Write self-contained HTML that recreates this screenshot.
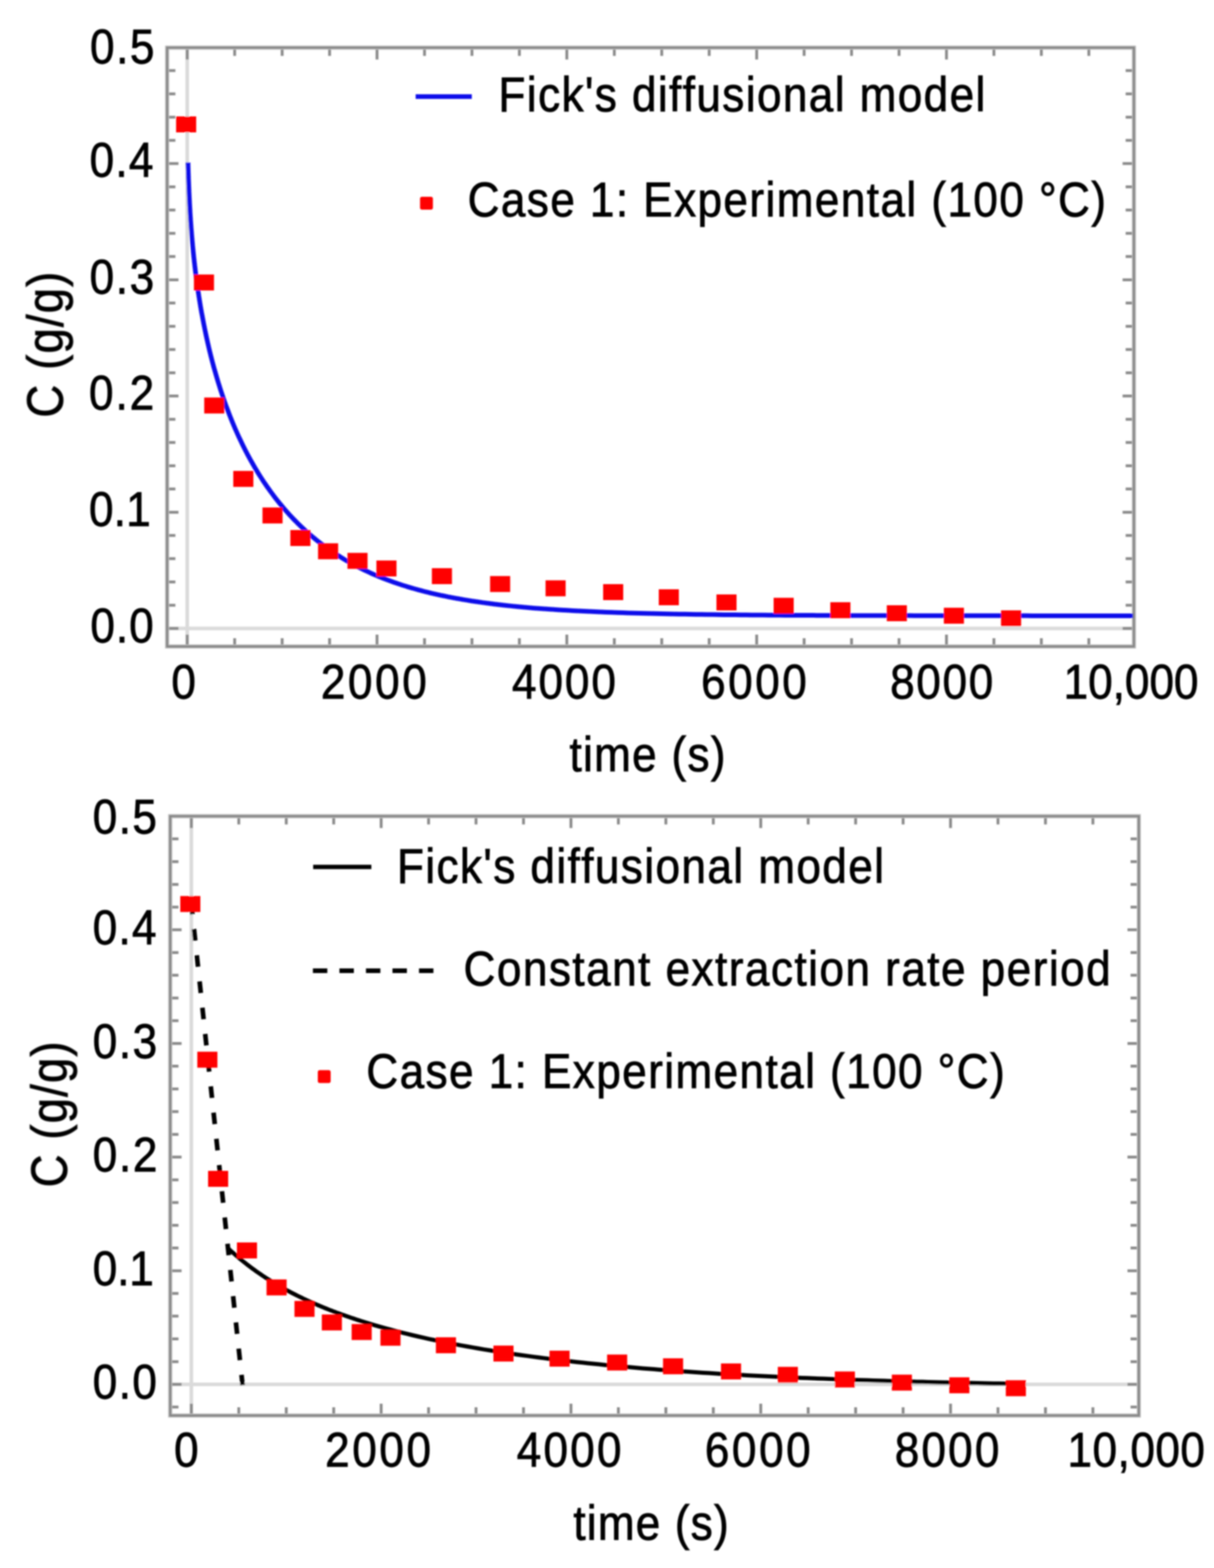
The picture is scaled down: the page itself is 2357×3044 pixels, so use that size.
<!DOCTYPE html><html><head><meta charset="utf-8"><title>Fick diffusion plots</title><style>html,body{margin:0;padding:0;background:#fff;}svg{display:block;}</style></head><body><svg width="2357" height="3044" viewBox="0 0 2357 3044"><defs><filter id="bl" filterUnits="userSpaceOnUse" x="0" y="0" width="2357" height="3044"><feGaussianBlur stdDeviation="1.5"/></filter></defs><rect width="2357" height="3044" fill="#fff"/><g filter="url(#bl)"><line x1="363.5" y1="92.5" x2="363.5" y2="1255" stroke="#dadada" stroke-width="7"/><line x1="324.5" y1="1220" x2="2201.5" y2="1220" stroke="#dadada" stroke-width="7"/><path d="M363.5 1255v-23M363.5 92.5v23M455.6 1255v-16M455.6 92.5v16M547.8 1255v-16M547.8 92.5v16M639.9 1255v-16M639.9 92.5v16M732 1255v-23M732 92.5v23M824.2 1255v-16M824.2 92.5v16M916.3 1255v-16M916.3 92.5v16M1008.4 1255v-16M1008.4 92.5v16M1100.5 1255v-23M1100.5 92.5v23M1192.7 1255v-16M1192.7 92.5v16M1284.8 1255v-16M1284.8 92.5v16M1376.9 1255v-16M1376.9 92.5v16M1469.1 1255v-23M1469.1 92.5v23M1561.2 1255v-16M1561.2 92.5v16M1653.3 1255v-16M1653.3 92.5v16M1745.5 1255v-16M1745.5 92.5v16M1837.6 1255v-23M1837.6 92.5v23M1929.7 1255v-16M1929.7 92.5v16M2021.8 1255v-16M2021.8 92.5v16M2114 1255v-16M2114 92.5v16M324.5 1220h22M2201.5 1220h-22M324.5 1174.9h16M2201.5 1174.9h-16M324.5 1129.8h16M2201.5 1129.8h-16M324.5 1084.6h16M2201.5 1084.6h-16M324.5 1039.5h16M2201.5 1039.5h-16M324.5 994.4h22M2201.5 994.4h-22M324.5 949.3h16M2201.5 949.3h-16M324.5 904.2h16M2201.5 904.2h-16M324.5 859h16M2201.5 859h-16M324.5 813.9h16M2201.5 813.9h-16M324.5 768.8h22M2201.5 768.8h-22M324.5 723.7h16M2201.5 723.7h-16M324.5 678.6h16M2201.5 678.6h-16M324.5 633.4h16M2201.5 633.4h-16M324.5 588.3h16M2201.5 588.3h-16M324.5 543.2h22M2201.5 543.2h-22M324.5 498.1h16M2201.5 498.1h-16M324.5 453h16M2201.5 453h-16M324.5 407.8h16M2201.5 407.8h-16M324.5 362.7h16M2201.5 362.7h-16M324.5 317.6h22M2201.5 317.6h-22M324.5 272.5h16M2201.5 272.5h-16M324.5 227.4h16M2201.5 227.4h-16M324.5 182.2h16M2201.5 182.2h-16M324.5 137.1h16M2201.5 137.1h-16M324.5 92h22M2201.5 92h-22" stroke="#8a8a8a" stroke-width="5.5" fill="none"/><rect x="324.5" y="92.5" width="1877" height="1162.5" fill="none" stroke="#bdbdbd" stroke-width="8"/><rect x="324.5" y="92.5" width="1877" height="1162.5" fill="none" stroke="#858585" stroke-width="4.2"/><path d="M365.0 315.3 L365.5 332.3 L366.0 347.2 L366.5 360.4 L367.0 372.3 L367.5 383.2 L368.0 393.1 L368.5 402.3 L369.0 410.9 L369.5 419.0 L370.0 426.6 L370.5 433.8 L371.0 440.6 L371.5 447.2 L372.0 453.5 L372.5 459.5 L373.0 465.3 L373.5 471.0 L374.0 476.4 L374.5 481.6 L375.0 486.7 L375.5 491.7 L376.0 496.5 L376.5 501.2 L377.0 505.8 L377.5 510.3 L378.0 514.7 L378.5 518.9 L379.0 523.1 L379.5 527.2 L380.0 531.2 L380.5 535.1 L381.5 542.8 L382.5 550.2 L383.5 557.3 L384.5 564.2 L385.5 570.9 L386.5 577.4 L387.5 583.7 L388.5 589.9 L389.5 595.9 L390.5 601.7 L391.5 607.4 L392.6 612.9 L393.6 618.3 L394.6 623.6 L395.6 628.8 L396.6 633.9 L397.6 638.8 L398.6 643.7 L399.6 648.5 L400.6 653.2 L401.6 657.8 L402.6 662.3 L403.6 666.7 L404.6 671.1 L405.6 675.4 L406.6 679.6 L407.6 683.7 L408.6 687.8 L409.6 691.8 L410.6 695.7 L411.6 699.6 L412.6 703.5 L413.6 707.2 L414.6 711.0 L415.6 714.6 L416.7 718.3 L417.7 721.8 L418.7 725.3 L419.7 728.8 L420.7 732.2 L421.7 735.6 L422.7 739.0 L423.7 742.3 L424.7 745.5 L425.7 748.7 L426.7 751.9 L427.7 755.0 L428.7 758.1 L429.7 761.2 L430.7 764.2 L431.7 767.2 L432.7 770.2 L433.7 773.1 L434.7 776.0 L435.7 778.9 L436.7 781.7 L437.7 784.5 L438.7 787.3 L439.7 790.0 L440.8 792.7 L441.8 795.4 L442.8 798.1 L443.8 800.7 L444.8 803.3 L445.8 805.9 L446.8 808.5 L447.8 811.0 L448.8 813.5 L449.8 816.0 L450.8 818.4 L451.8 820.9 L452.8 823.3 L453.8 825.7 L454.8 828.0 L455.8 830.4 L456.8 832.7 L457.8 835.0 L458.8 837.3 L459.8 839.5 L460.8 841.8 L461.8 844.0 L462.8 846.2 L463.8 848.4 L464.9 850.6 L465.9 852.7 L466.9 854.8 L467.9 856.9 L468.9 859.0 L469.9 861.1 L470.9 863.2 L471.9 865.2 L472.9 867.2 L473.9 869.2 L474.9 871.2 L475.9 873.2 L476.9 875.2 L477.9 877.1 L478.9 879.0 L479.9 881.0 L480.9 882.9 L481.9 884.7 L482.9 886.6 L483.9 888.5 L484.9 890.3 L485.9 892.1 L486.9 893.9 L487.9 895.7 L489.0 897.5 L490.0 899.3 L491.0 901.1 L492.0 902.8 L493.0 904.5 L494.0 906.3 L495.0 908.0 L496.0 909.7 L497.0 911.3 L498.0 913.0 L499.0 914.7 L500.0 916.3 L502.0 919.6 L505.3 924.9 L508.7 930.1 L512.0 935.2 L515.4 940.1 L518.7 945.0 L522.1 949.7 L525.4 954.4 L528.8 958.9 L532.1 963.4 L535.4 967.7 L538.8 972.0 L542.1 976.1 L545.5 980.2 L548.8 984.2 L552.2 988.1 L555.5 992.0 L558.9 995.7 L562.2 999.4 L565.5 1003.0 L568.9 1006.6 L572.2 1010.0 L575.6 1013.4 L578.9 1016.8 L582.3 1020.0 L585.6 1023.2 L589.0 1026.4 L592.3 1029.5 L595.6 1032.5 L599.0 1035.5 L602.3 1038.4 L605.7 1041.2 L609.0 1044.0 L612.4 1046.8 L615.7 1049.5 L619.1 1052.1 L622.4 1054.7 L625.7 1057.2 L629.1 1059.7 L632.4 1062.2 L635.8 1064.6 L639.1 1067.0 L642.5 1069.3 L645.8 1071.6 L649.2 1073.8 L652.5 1076.0 L655.8 1078.1 L659.2 1080.2 L662.5 1082.3 L665.9 1084.4 L669.2 1086.3 L672.6 1088.3 L675.9 1090.2 L679.3 1092.1 L682.6 1094.0 L685.9 1095.8 L689.3 1097.6 L692.6 1099.4 L696.0 1101.1 L699.3 1102.8 L702.7 1104.4 L706.0 1106.1 L709.4 1107.7 L712.7 1109.2 L716.1 1110.8 L719.4 1112.3 L722.7 1113.8 L726.1 1115.3 L729.4 1116.7 L732.8 1118.1 L736.1 1119.5 L739.5 1120.9 L742.8 1122.2 L746.2 1123.5 L749.5 1124.8 L752.8 1126.1 L756.2 1127.3 L759.5 1128.5 L762.9 1129.7 L766.2 1130.9 L769.6 1132.1 L772.9 1133.2 L776.3 1134.3 L779.6 1135.4 L782.9 1136.5 L786.3 1137.5 L789.6 1138.6 L793.0 1139.6 L796.3 1140.6 L799.7 1141.6 L803.0 1142.5 L806.4 1143.5 L809.7 1144.4 L813.0 1145.3 L816.4 1146.2 L819.7 1147.1 L823.1 1148.0 L826.4 1148.8 L829.8 1149.6 L833.1 1150.5 L836.5 1151.3 L839.8 1152.1 L843.1 1152.8 L846.5 1153.6 L849.8 1154.3 L853.2 1155.1 L856.5 1155.8 L859.9 1156.5 L863.2 1157.2 L866.6 1157.9 L869.9 1158.6 L873.2 1159.2 L876.6 1159.9 L879.9 1160.5 L883.3 1161.1 L886.6 1161.7 L890.0 1162.3 L893.3 1162.9 L896.7 1163.5 L900.0 1164.1 L905.0 1164.9 L915.9 1166.7 L926.8 1168.3 L937.6 1169.9 L948.5 1171.3 L959.4 1172.7 L970.3 1174.0 L981.1 1175.2 L992.0 1176.4 L1002.9 1177.4 L1013.8 1178.5 L1024.7 1179.4 L1035.5 1180.4 L1046.4 1181.2 L1057.3 1182.0 L1068.2 1182.8 L1079.1 1183.5 L1089.9 1184.2 L1100.8 1184.8 L1111.7 1185.4 L1122.6 1186.0 L1133.4 1186.5 L1144.3 1187.0 L1155.2 1187.5 L1166.1 1188.0 L1177.0 1188.4 L1187.8 1188.8 L1198.7 1189.2 L1209.6 1189.5 L1220.5 1189.9 L1231.3 1190.2 L1242.2 1190.5 L1253.1 1190.8 L1264.0 1191.0 L1274.9 1191.3 L1285.7 1191.5 L1296.6 1191.7 L1307.5 1192.0 L1318.4 1192.2 L1329.2 1192.3 L1340.1 1192.5 L1351.0 1192.7 L1361.9 1192.8 L1372.8 1193.0 L1383.6 1193.1 L1394.5 1193.3 L1405.4 1193.4 L1416.3 1193.5 L1427.2 1193.6 L1438.0 1193.7 L1448.9 1193.8 L1459.8 1193.9 L1470.7 1194.0 L1481.5 1194.1 L1492.4 1194.2 L1503.3 1194.2 L1514.2 1194.3 L1525.1 1194.4 L1535.9 1194.4 L1546.8 1194.5 L1557.7 1194.5 L1568.6 1194.6 L1579.4 1194.6 L1590.3 1194.7 L1601.2 1194.7 L1612.1 1194.8 L1623.0 1194.8 L1633.8 1194.8 L1644.7 1194.9 L1655.6 1194.9 L1666.5 1194.9 L1677.3 1195.0 L1688.2 1195.0 L1699.1 1195.0 L1710.0 1195.0 L1720.9 1195.1 L1731.7 1195.1 L1742.6 1195.1 L1753.5 1195.1 L1764.4 1195.1 L1775.3 1195.2 L1786.1 1195.2 L1797.0 1195.2 L1807.9 1195.2 L1818.8 1195.2 L1829.6 1195.2 L1840.5 1195.2 L1851.4 1195.2 L1862.3 1195.3 L1873.2 1195.3 L1884.0 1195.3 L1894.9 1195.3 L1905.8 1195.3 L1916.7 1195.3 L1927.5 1195.3 L1938.4 1195.3 L1949.3 1195.3 L1960.2 1195.3 L1971.1 1195.3 L1981.9 1195.3 L1992.8 1195.3 L2003.7 1195.4 L2014.6 1195.4 L2025.4 1195.4 L2036.3 1195.4 L2047.2 1195.4 L2058.1 1195.4 L2069.0 1195.4 L2079.8 1195.4 L2090.7 1195.4 L2101.6 1195.4 L2112.5 1195.4 L2123.4 1195.4 L2134.2 1195.4 L2145.1 1195.4 L2156.0 1195.4 L2166.9 1195.4 L2177.7 1195.4 L2188.6 1195.4 L2199.5 1195.4" fill="none" stroke="#1010ea" stroke-width="9" stroke-linejoin="round"/><g fill="#ff0000"><rect x="341.9" y="226" width="39" height="31"/><rect x="376.5" y="532.9" width="39" height="31"/><rect x="396.5" y="771.7" width="39" height="31"/><rect x="452.9" y="914.2" width="39" height="31"/><rect x="509.6" y="985.2" width="39" height="31"/><rect x="563.7" y="1029" width="39" height="31"/><rect x="617.5" y="1054.7" width="39" height="31"/><rect x="674.6" y="1073.3" width="39" height="31"/><rect x="730.8" y="1088.1" width="39" height="31"/><rect x="838.5" y="1103" width="39" height="31"/><rect x="951.5" y="1118.3" width="39" height="31"/><rect x="1059.2" y="1126.6" width="39" height="31"/><rect x="1171" y="1134" width="39" height="31"/><rect x="1279" y="1144" width="39" height="31"/><rect x="1391" y="1154" width="39" height="31"/><rect x="1502" y="1160.5" width="39" height="31"/><rect x="1612.1" y="1169.1" width="39" height="31"/><rect x="1721.7" y="1175" width="39" height="31"/><rect x="1832.5" y="1179.8" width="39" height="31"/><rect x="1943.5" y="1184.9" width="39" height="31"/></g><line x1="807" y1="187.6" x2="916" y2="187.6" stroke="#1010ea" stroke-width="9"/><rect x="815.5" y="382" width="25" height="25" rx="4" fill="#ff0000"/><line x1="371.5" y1="1584.5" x2="371.5" y2="2748" stroke="#dadada" stroke-width="7"/><line x1="330.5" y1="2687.5" x2="2211" y2="2687.5" stroke="#dadada" stroke-width="7"/><path d="M371.5 2748v-23M371.5 1584.5v23M463.6 2748v-16M463.6 1584.5v16M555.8 2748v-16M555.8 1584.5v16M647.9 2748v-16M647.9 1584.5v16M740 2748v-23M740 1584.5v23M832.1 2748v-16M832.1 1584.5v16M924.2 2748v-16M924.2 1584.5v16M1016.4 2748v-16M1016.4 1584.5v16M1108.5 2748v-23M1108.5 1584.5v23M1200.6 2748v-16M1200.6 1584.5v16M1292.8 2748v-16M1292.8 1584.5v16M1384.9 2748v-16M1384.9 1584.5v16M1477 2748v-23M1477 1584.5v23M1569.1 2748v-16M1569.1 1584.5v16M1661.2 2748v-16M1661.2 1584.5v16M1753.4 2748v-16M1753.4 1584.5v16M1845.5 2748v-23M1845.5 1584.5v23M1937.6 2748v-16M1937.6 1584.5v16M2029.8 2748v-16M2029.8 1584.5v16M2121.9 2748v-16M2121.9 1584.5v16M330.5 2731.6h16M2211 2731.6h-16M330.5 2687.5h22M2211 2687.5h-22M330.5 2643.4h16M2211 2643.4h-16M330.5 2599.3h16M2211 2599.3h-16M330.5 2555.1h16M2211 2555.1h-16M330.5 2511h16M2211 2511h-16M330.5 2466.9h22M2211 2466.9h-22M330.5 2422.8h16M2211 2422.8h-16M330.5 2378.7h16M2211 2378.7h-16M330.5 2334.5h16M2211 2334.5h-16M330.5 2290.4h16M2211 2290.4h-16M330.5 2246.3h22M2211 2246.3h-22M330.5 2202.2h16M2211 2202.2h-16M330.5 2158.1h16M2211 2158.1h-16M330.5 2113.9h16M2211 2113.9h-16M330.5 2069.8h16M2211 2069.8h-16M330.5 2025.7h22M2211 2025.7h-22M330.5 1981.6h16M2211 1981.6h-16M330.5 1937.5h16M2211 1937.5h-16M330.5 1893.3h16M2211 1893.3h-16M330.5 1849.2h16M2211 1849.2h-16M330.5 1805.1h22M2211 1805.1h-22M330.5 1761h16M2211 1761h-16M330.5 1716.9h16M2211 1716.9h-16M330.5 1672.7h16M2211 1672.7h-16M330.5 1628.6h16M2211 1628.6h-16M330.5 1584.5h22M2211 1584.5h-22" stroke="#8a8a8a" stroke-width="5.5" fill="none"/><rect x="330.5" y="1584.5" width="1880.5" height="1163.5" fill="none" stroke="#bdbdbd" stroke-width="8"/><rect x="330.5" y="1584.5" width="1880.5" height="1163.5" fill="none" stroke="#858585" stroke-width="4.2"/><line x1="371.5" y1="1755" x2="471" y2="2689" stroke="#000" stroke-width="9" stroke-dasharray="22.5 28.7" stroke-dashoffset="2.4"/><path d="M441.0 2421.7 L444.3 2424.7 L447.6 2427.8 L450.8 2430.7 L454.1 2433.6 L457.4 2436.5 L460.7 2439.3 L463.9 2442.1 L467.2 2444.8 L470.5 2447.5 L473.8 2450.1 L477.1 2452.7 L480.3 2455.3 L483.6 2457.8 L486.9 2460.2 L490.2 2462.7 L493.5 2465.1 L496.7 2467.4 L500.0 2469.7 L503.3 2472.0 L506.6 2474.2 L509.8 2476.5 L513.1 2478.6 L516.4 2480.8 L519.7 2482.9 L523.0 2484.9 L526.2 2487.0 L529.5 2489.0 L532.8 2491.0 L536.1 2493.0 L539.4 2494.9 L542.6 2496.8 L545.9 2498.7 L549.2 2500.5 L552.5 2502.3 L555.7 2504.1 L559.0 2505.9 L562.3 2507.6 L565.6 2509.4 L568.9 2511.1 L572.1 2512.7 L575.4 2514.4 L578.7 2516.0 L582.0 2517.6 L585.3 2519.2 L588.5 2520.8 L591.8 2522.3 L595.1 2523.9 L598.4 2525.4 L601.6 2526.9 L604.9 2528.3 L608.2 2529.8 L611.5 2531.2 L614.8 2532.6 L618.0 2534.0 L621.3 2535.4 L624.6 2536.8 L627.9 2538.1 L631.2 2539.5 L634.4 2540.8 L637.7 2542.1 L641.0 2543.4 L644.3 2544.6 L647.5 2545.9 L650.8 2547.1 L654.1 2548.4 L657.4 2549.6 L660.7 2550.8 L663.9 2552.0 L667.2 2553.1 L670.5 2554.3 L673.8 2555.4 L677.1 2556.6 L680.3 2557.7 L683.6 2558.8 L686.9 2559.9 L690.2 2561.0 L693.4 2562.1 L696.7 2563.1 L700.0 2564.2 L705.0 2565.8 L715.6 2569.1 L726.3 2572.3 L736.9 2575.4 L747.6 2578.3 L758.2 2581.2 L768.9 2584.0 L779.5 2586.8 L790.2 2589.4 L800.8 2592.0 L811.5 2594.5 L822.1 2596.9 L832.8 2599.3 L843.4 2601.5 L854.1 2603.8 L864.7 2605.9 L875.4 2608.0 L886.0 2610.1 L896.6 2612.1 L907.3 2614.0 L917.9 2615.9 L928.6 2617.8 L939.2 2619.6 L949.9 2621.3 L960.5 2623.0 L971.2 2624.7 L981.8 2626.3 L992.5 2627.9 L1003.1 2629.5 L1013.8 2631.0 L1024.4 2632.4 L1035.1 2633.9 L1045.7 2635.3 L1056.4 2636.6 L1067.0 2638.0 L1077.6 2639.3 L1088.3 2640.5 L1098.9 2641.8 L1109.6 2643.0 L1120.2 2644.2 L1130.9 2645.3 L1141.5 2646.5 L1152.2 2647.6 L1162.8 2648.6 L1173.5 2649.7 L1184.1 2650.7 L1194.8 2651.7 L1205.4 2652.7 L1216.1 2653.6 L1226.7 2654.6 L1237.4 2655.5 L1248.0 2656.4 L1258.6 2657.2 L1269.3 2658.1 L1279.9 2658.9 L1290.6 2659.7 L1301.2 2660.5 L1311.9 2661.3 L1322.5 2662.1 L1333.2 2662.8 L1343.8 2663.5 L1354.5 2664.2 L1365.1 2664.9 L1375.8 2665.6 L1386.4 2666.2 L1397.1 2666.9 L1407.7 2667.5 L1418.4 2668.1 L1429.0 2668.7 L1439.6 2669.3 L1450.3 2669.9 L1460.9 2670.4 L1471.6 2671.0 L1482.2 2671.5 L1492.9 2672.0 L1503.5 2672.5 L1514.2 2673.0 L1524.8 2673.5 L1535.5 2674.0 L1546.1 2674.5 L1556.8 2674.9 L1567.4 2675.3 L1578.1 2675.8 L1588.7 2676.2 L1599.4 2676.6 L1610.0 2677.0 L1620.6 2677.4 L1631.3 2677.8 L1641.9 2678.2 L1652.6 2678.5 L1663.2 2678.9 L1673.9 2679.3 L1684.5 2679.6 L1695.2 2679.9 L1705.8 2680.3 L1716.5 2680.6 L1727.1 2680.9 L1737.8 2681.2 L1748.4 2681.5 L1759.1 2681.8 L1769.7 2682.1 L1780.4 2682.4 L1791.0 2682.6 L1801.6 2682.9 L1812.3 2683.2 L1822.9 2683.4 L1833.6 2683.7 L1844.2 2683.9 L1854.9 2684.1 L1865.5 2684.4 L1876.2 2684.6 L1886.8 2684.8 L1897.5 2685.0 L1908.1 2685.2 L1918.8 2685.4 L1929.4 2685.7 L1940.1 2685.8 L1950.7 2686.0 L1961.4 2686.2 L1972.0 2686.4" fill="none" stroke="#000" stroke-width="8" stroke-linejoin="round"/><g fill="#ff0000"><rect x="350" y="1739.5" width="39" height="31"/><rect x="383.1" y="2041.7" width="39" height="31"/><rect x="404" y="2273" width="39" height="31"/><rect x="460" y="2412" width="39" height="31"/><rect x="517.5" y="2483.8" width="39" height="31"/><rect x="571.7" y="2525.5" width="39" height="31"/><rect x="624.8" y="2551.8" width="39" height="31"/><rect x="682.7" y="2570.4" width="39" height="31"/><rect x="738.6" y="2581.5" width="39" height="31"/><rect x="846.3" y="2596.1" width="39" height="31"/><rect x="958" y="2612.2" width="39" height="31"/><rect x="1066.9" y="2622.1" width="39" height="31"/><rect x="1178.7" y="2629.6" width="39" height="31"/><rect x="1287.3" y="2636.9" width="39" height="31"/><rect x="1399.8" y="2646.9" width="39" height="31"/><rect x="1510.1" y="2653.5" width="39" height="31"/><rect x="1620.8" y="2662.5" width="39" height="31"/><rect x="1731.5" y="2668.6" width="39" height="31"/><rect x="1843.1" y="2673.8" width="39" height="31"/><rect x="1952.8" y="2679.5" width="39" height="31"/></g><line x1="608" y1="1683" x2="721" y2="1683" stroke="#000" stroke-width="8.5"/><path d="M607.5 1884.6h28M659 1884.6h28M710.5 1884.6h28M762 1884.6h28M813.5 1884.6h28" stroke="#000" stroke-width="9"/><rect x="617" y="2077.5" width="25" height="25" rx="4" fill="#ff0000"/><g font-family="'Liberation Sans', Arial, sans-serif" fill="#000" stroke="#000" stroke-width="1.5"><text transform="scale(0.9 1)" x="194.3 250.5 280.2" y="123.3" font-size="95">0.5</text><text transform="scale(0.9 1)" x="193.4 249 278.2" y="343.1" font-size="95">0.4</text><text transform="scale(0.9 1)" x="193.4 249.8 279.6" y="569.8" font-size="95">0.3</text><text transform="scale(0.9 1)" x="192 249.1 279.8" y="795.4" font-size="95">0.2</text><text transform="scale(0.9 1)" x="192 245.4 272.3" y="1021.4" font-size="95">0.1</text><text transform="scale(0.9 1)" x="195.1 250.1 278.6" y="1247.3" font-size="95">0.0</text><text transform="scale(0.9 1)" x="369.6" y="1356" font-size="95">0</text><text transform="scale(0.9 1)" x="692.1 750.7 809.3 867.9" y="1356" font-size="95">2000</text><text transform="scale(0.9 1)" x="1104.5 1161.6 1218.7 1275.8" y="1356" font-size="95">4000</text><text transform="scale(0.9 1)" x="1512.4 1570.8 1629.2 1687.6" y="1356" font-size="95">6000</text><text transform="scale(0.9 1)" x="1920.2 1976.7 2033.3 2089.8" y="1356" font-size="95">8000</text><text transform="scale(0.9 1)" x="2294.5 2347.4 2400.3 2426.7 2479.6 2532.5" y="1356" font-size="95">10,000</text><text transform="scale(0.9 1)" x="1228.7 1257.9 1281.8 1363.7 1419.4 1448.6 1483 1533.3" y="1497" font-size="95">time (s)</text><text transform="scale(0.9 1)" x="1075.4 1136.5 1160.7 1211.3 1261.9 1283.1 1333.7 1363.2 1419.1 1443.3 1472.8 1502.2 1558.2 1608.8 1633 1688.9 1744.8 1800.7 1824.9 1854.4 1936.6 1992.5 2048.5 2104.4" y="216" font-size="95">Fick&#39;s diffusional model</text><text transform="scale(0.9 1)" x="1008.8 1080.5 1136.5 1187.1 1243.1 1272.6 1328.6 1358.1 1387.6 1454.1 1504.7 1560.7 1616.7 1651.4 1675.7 1757.9 1813.9 1869.8 1899.4 1955.3 1979.6 2009.1 2043.8 2099.8 2155.8 2211.7 2241.3 2282.4 2354.1" y="420.5" font-size="95">Case 1: Experimental (100 °C)</text><text transform="scale(0.9 1)" x="200.1 256.1 285.7" y="1617.8" font-size="95">0.5</text><text transform="scale(0.9 1)" x="200.1 255.5 284.6" y="1832.8" font-size="95">0.4</text><text transform="scale(0.9 1)" x="200.1 256.3 286" y="2054.3" font-size="95">0.3</text><text transform="scale(0.9 1)" x="200.1 256.6 286.7" y="2274.3" font-size="95">0.2</text><text transform="scale(0.9 1)" x="200.1 252.8 279" y="2495.3" font-size="95">0.1</text><text transform="scale(0.9 1)" x="200.1 256 285.5" y="2715.3" font-size="95">0.0</text><text transform="scale(0.9 1)" x="375.6" y="2847.5" font-size="95">0</text><text transform="scale(0.9 1)" x="701.4 759.9 818.4 876.9" y="2847.5" font-size="95">2000</text><text transform="scale(0.9 1)" x="1114.8 1172.4 1230.1 1287.8" y="2847.5" font-size="95">4000</text><text transform="scale(0.9 1)" x="1520.6 1579 1637.4 1695.8" y="2847.5" font-size="95">6000</text><text transform="scale(0.9 1)" x="1930.2 1987.8 2045.4 2103.1" y="2847.5" font-size="95">8000</text><text transform="scale(0.9 1)" x="2302.9 2356.9 2410.9 2438.5 2492.5 2546.5" y="2847.5" font-size="95">10,000</text><text transform="scale(0.9 1)" x="1236.9 1265.9 1289.6 1371.4 1426.8 1455.9 1490.1 1540.2" y="2989" font-size="95">time (s)</text><text transform="scale(0.9 1)" x="856.3 917.4 941.6 992.2 1042.9 1064.1 1114.7 1144.2 1200.2 1224.4 1253.9 1283.4 1339.3 1390 1414.2 1470.1 1526.1 1582 1606.2 1635.7 1718 1773.9 1829.9 1885.8" y="1713.5" font-size="95">Fick&#39;s diffusional model</text><text transform="scale(0.9 1)" x="1000.1 1072 1128 1184.1 1234.8 1264.4 1320.5 1376.5 1406.2 1435.8 1491.8 1542.6 1572.2 1607 1663.1 1713.8 1743.4 1767.8 1823.8 1879.9 1909.5 1944.4 2000.4 2030.1 2086.1 2115.7 2171.8 2227.9 2262.7 2287 2343.1" y="1912.8" font-size="95">Constant extraction rate period</text><text transform="scale(0.9 1)" x="790.4 862.1 918.1 968.7 1024.6 1054.2 1110.1 1139.7 1169.2 1235.7 1286.3 1342.3 1398.2 1433 1457.2 1539.5 1595.4 1651.4 1680.9 1736.9 1761.1 1790.6 1825.4 1881.4 1937.3 1993.3 2022.8 2063.9 2135.7" y="2112.2" font-size="95">Case 1: Experimental (100 °C)</text><text transform="translate(121.5 0) rotate(-90) scale(0.9 1)" x="-900.8 -827.5 -797.7 -762.5 -705.5 -675.7 -618.7" y="0" font-size="98">C (g/g)</text><text transform="translate(129.5 0) rotate(-90) scale(0.9 1)" x="-2561.2 -2487.9 -2458.2 -2423 -2366 -2336.2 -2279.1" y="0" font-size="98">C (g/g)</text></g></g></svg></body></html>
